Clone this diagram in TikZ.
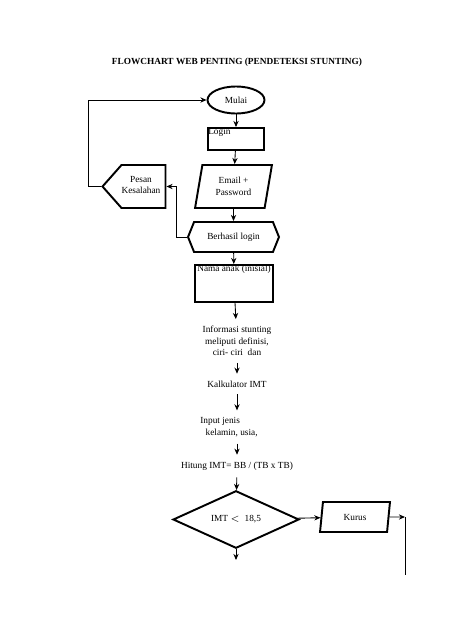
\documentclass[tikz,border=0pt]{standalone}
\usepackage{fontspec}
\setmainfont{Liberation Serif}
\usetikzlibrary{arrows.meta,shapes.geometric,shapes.symbols}

\tikzset{
	box/.style={draw, line width=1.1pt, inner sep=0pt},
	txt/.style={inner sep=0pt, outer sep=4pt},
	arr/.style={line width=0.5pt, -{Stealth[length=3.5pt,width=3pt]}},
	lin/.style={line width=0.5pt},
}

\begin{document}
\begin{tikzpicture}[x=0.02cm, y=-0.02cm, font=\fontsize{5.3}{6.6}\selectfont]
	\useasboundingbox (0,0) rectangle (474,632);
	\node (judul) at (237,62) {\bfseries FLOWCHART WEB PENTING (PENDETEKSI STUNTING)};
	\node[box, ellipse, minimum width=1.14cm, minimum height=0.54cm] (mulai) at (236,100) {Mulai};
	\node[box, rectangle, minimum width=1.12cm, minimum height=0.44cm,
		label={[anchor=north west, inner sep=0.5pt]north west:Login}] (login) at (236,139) {};
	\node[box, trapezium, trapezium left angle=77, trapezium right angle=103, trapezium stretches=true,
		minimum width=1.54cm, minimum height=0.86cm, align=center] (email) at (233.5,186.5) {Email +\\Password};
	\node[box, signal, signal to=west and east, signal pointer angle=136,
		minimum width=1.82cm, minimum height=0.6cm] (hasil) at (233.5,237) {Berhasil login};
	\node[box, signal, signal to=west, signal from=nowhere, signal pointer angle=97,
		minimum width=1.26cm, minimum height=0.86cm,
		label={[align=center, xshift=-0.05cm, yshift=0.03cm]center:Pesan\\Kesalahan}] (pesan) at (143.5,186.5) {};
	\node[box, rectangle, minimum width=1.56cm, minimum height=0.74cm,
		label={[anchor=north, inner sep=0.5pt]north:Nama anak (inisial)}] (nama) at (234,283.5) {};
	\node[txt, align=center] (info) at (237,341) {Informasi stunting\\meliputi definisi,\\ciri- ciri \ dan};
	\node[txt] (kalk) at (237,384) {Kalkulator IMT};
	\node[txt, align=left] (inp) at (229,427) {Input jenis\\\hspace{3pt}kelamin, usia,};
	\node[txt] (hitung) at (237,466) {Hitung IMT= BB / (TB x TB)};
	\node[box, diamond, minimum width=2.52cm, minimum height=0.98cm] (imt) at (236,519.5) {IMT $<$\ \ 18,5};
	\node[box, trapezium, trapezium left angle=80.5, trapezium right angle=99.5, trapezium stretches=true,
		minimum width=1.4cm, minimum height=0.6cm] (kurus) at (355,517) {Kurus};
	\coordinate (tidak) at (236,560);
	\coordinate (lanjut) at (405,517);
	\coordinate (bawah) at (405,575);
	\draw[arr] (mulai) -- (login);
	\draw[arr] (login) -- (email);
	\draw[arr] (email) -- (hasil);
	\draw[arr] (hasil.west) -- ++(-11,0) |- (pesan.east);
	\draw[arr] (pesan.west) -- ++(-13,0) |- (mulai.west);
	\draw[arr] (hasil) -- (nama);
	\draw[arr] (nama) -- (info);
	\draw[arr] (info) -- (kalk);
	\draw[arr] (kalk) -- (kalk |- inp.north);
	\draw[arr] (inp.south -| hitung) -- (hitung);
	\draw[arr] (hitung) -- (imt);
	\draw[arr] (imt) -- (tidak);
	\draw[arr] (imt) -- (kurus);
	\draw[arr] (kurus) -- (lanjut);
	\draw[lin] (lanjut) -- (bawah);
\end{tikzpicture}
\end{document}
